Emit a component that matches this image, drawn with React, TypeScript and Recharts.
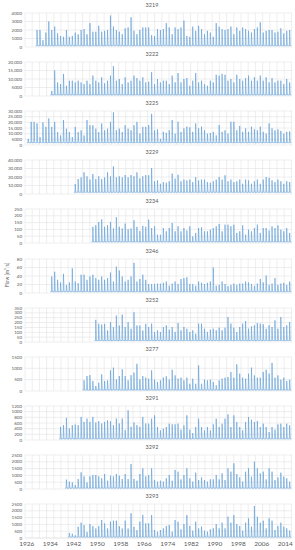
import { LineChart, Line, XAxis, YAxis, CartesianGrid } from "recharts";

// annual peak flows (one value per year, starting at `start`)
const peaks3219 = [2000, 2000, 800, 1700, 3000, 2000, 2400, 1600, 1300, 1200, 2000, 1200, 1300, 1700, 1500, 2000, 2100, 1500, 2800, 1800, 1800, 2500, 1800, 1900, 2000, 3700, 2400, 2000, 1800, 1500, 2200, 2300, 3500, 1900, 1500, 2000, 2300, 2300, 2300, 1400, 1300, 2100, 2000, 2100, 2800, 2300, 1500, 2300, 2100, 2300, 3100, 1300, 1200, 2400, 1900, 2500, 2100, 1500, 1900, 1700, 1200, 2800, 2400, 2100, 2000, 2100, 2400, 1500, 2300, 1900, 2300, 2100, 1900, 1700, 2100, 2300, 2900, 1700, 1900, 2000, 2000, 1700, 1800, 2200, 1600, 1900, 2000];
const peaks3222 = [3000, 15000, 8000, 7000, 13000, 6000, 9000, 9000, 8000, 9000, 8000, 7000, 9000, 7000, 12000, 9000, 8000, 11000, 7500, 9000, 12000, 17500, 9000, 10000, 7000, 11000, 8000, 9000, 12000, 10500, 9000, 11000, 8000, 8500, 14000, 7000, 10000, 8000, 9000, 9000, 7000, 12000, 8000, 13500, 8000, 10000, 10500, 6000, 9000, 13500, 8000, 9000, 7000, 6000, 9000, 8000, 12500, 12000, 13000, 12500, 9000, 10000, 8000, 12500, 10000, 9000, 10500, 12000, 9000, 11000, 9000, 12000, 9000, 11000, 8000, 10500, 8000, 9000, 9000, 7000, 10000, 8000];
const peaks3225 = [5400, 20400, 20400, 19000, 7000, 20000, 16000, 23400, 16000, 20400, 11400, 8400, 22000, 14400, 11400, 7000, 16000, 11400, 13000, 8400, 22000, 17400, 17400, 14400, 11400, 19000, 13000, 14400, 20400, 28800, 13000, 14400, 11400, 17400, 14400, 13000, 17400, 20400, 10000, 16000, 16000, 17700, 27500, 13000, 13800, 5500, 11600, 10700, 13000, 22000, 10000, 20500, 11600, 14700, 16200, 15600, 11600, 19000, 14700, 16200, 13000, 10000, 10700, 11600, 8500, 17700, 11600, 13000, 10000, 20500, 20500, 13000, 16800, 11600, 14700, 11600, 16200, 13800, 13000, 16200, 11600, 10000, 19000, 14700, 13000, 13800, 12500, 10000, 11600, 12000];
const peaks3229 = [11800, 17600, 19600, 25500, 20800, 17000, 23500, 17600, 20800, 17600, 19600, 25500, 20800, 32500, 19600, 20800, 19600, 22300, 19600, 22300, 20800, 25500, 18400, 20800, 22300, 22000, 30500, 15000, 16000, 12000, 14000, 13300, 15000, 24000, 18000, 22700, 15000, 17000, 16000, 17000, 14000, 20000, 16000, 17000, 17000, 14000, 13300, 15000, 17000, 20000, 17000, 22000, 15000, 17000, 14000, 15000, 17000, 12000, 17000, 16000, 12000, 15000, 17000, 12000, 17000, 20000, 19000, 16000, 14000, 17000, 15000, 12000, 15000, 14000];
const peaks3234 = [119, 131, 155, 174, 119, 131, 155, 107, 190, 119, 107, 143, 102, 107, 167, 119, 88, 126, 119, 172, 110, 123, 61, 61, 110, 86, 110, 147, 86, 123, 86, 110, 91, 123, 49, 74, 110, 115, 86, 86, 98, 110, 123, 140, 86, 135, 135, 123, 135, 74, 86, 130, 61, 98, 86, 110, 135, 74, 110, 110, 91, 123, 110, 130, 98, 86, 110, 74];
const peaks3246 = [39, 50, 31, 25, 45, 19, 25, 58, 27, 23, 43, 43, 31, 39, 43, 35, 31, 39, 31, 35, 48, 27, 62, 53, 39, 27, 31, 39, 71, 27, 33, 43, 31, 21, 21, 21, 22, 22, 24, 27, 17, 22, 27, 21, 33, 35, 37, 21, 21, 17, 27, 24, 21, 24, 27, 60, 17, 19, 27, 21, 16, 19, 22, 19, 22, 22, 27, 25, 21, 17, 22, 33, 25, 41, 19, 22, 35, 19, 22, 24, 19, 27];
const peaks3252 = [228, 187, 180, 187, 119, 204, 153, 272, 170, 282, 153, 204, 136, 306, 170, 170, 119, 187, 154, 189, 103, 120, 103, 154, 172, 127, 154, 103, 196, 120, 154, 137, 103, 120, 86, 189, 189, 137, 103, 127, 137, 120, 147, 120, 147, 257, 189, 147, 103, 154, 189, 216, 137, 161, 172, 196, 189, 182, 137, 172, 154, 223, 137, 257, 154, 172, 206];
const peaks3277 = [470, 660, 700, 440, 220, 370, 735, 440, 470, 910, 1030, 515, 660, 955, 660, 470, 700, 810, 1200, 515, 660, 590, 545, 910, 500, 400, 470, 590, 650, 500, 940, 690, 545, 590, 470, 590, 320, 545, 320, 1130, 320, 500, 470, 500, 400, 250, 470, 545, 590, 620, 840, 590, 1180, 765, 590, 545, 765, 1030, 690, 590, 590, 840, 940, 765, 1240, 590, 690, 500, 590, 440, 500];
const peaks3291 = [466, 524, 780, 408, 524, 548, 524, 815, 640, 757, 640, 815, 617, 664, 583, 640, 699, 664, 524, 757, 583, 757, 350, 1048, 466, 617, 524, 466, 815, 583, 576, 752, 870, 459, 341, 400, 459, 576, 553, 553, 576, 364, 517, 870, 364, 247, 459, 752, 459, 341, 459, 341, 553, 752, 459, 576, 752, 905, 459, 870, 635, 459, 341, 635, 811, 717, 635, 670, 459, 576, 459, 282, 459, 364, 553, 576, 459, 576, 517];
const peaks3292 = [686, 539, 490, 294, 735, 1225, 931, 490, 931, 1029, 1029, 931, 784, 1100, 612, 980, 931, 1100, 980, 735, 1100, 735, 1838, 735, 612, 1100, 1519, 931, 1029, 1520, 661, 539, 613, 539, 784, 1029, 613, 1397, 1275, 710, 1029, 1520, 784, 539, 1200, 661, 857, 661, 539, 710, 710, 1029, 710, 1152, 661, 1520, 1275, 1887, 1102, 857, 539, 1275, 1520, 906, 2010, 1520, 1152, 1275, 710, 1520, 1275, 661, 857, 1200, 906, 784, 539];
const peaks3293 = [375, 325, 200, 825, 1125, 950, 450, 1025, 875, 700, 875, 1325, 1075, 700, 1200, 1275, 1275, 875, 700, 1275, 700, 1825, 825, 575, 1200, 1700, 1075, 1078, 1690, 588, 465, 588, 710, 882, 955, 465, 1323, 1200, 637, 1029, 1690, 882, 539, 1200, 710, 833, 539, 465, 637, 710, 1029, 710, 1127, 710, 1568, 1127, 1690, 1029, 882, 539, 1127, 1445, 833, 2352, 1568, 1127, 1274, 710, 1445, 1274, 588, 882, 1127, 833, 710, 539];

const stationIds = ["3219", "3222", "3225", "3229", "3234", "3246", "3252", "3277", "3291", "3292", "3293"];
const startYears = [1929, 1934, 1926, 1942, 1948, 1934, 1949, 1945, 1937, 1939, 1940];
const lowFlows = [150, 600, 2000, 2000, 8, 3, 15, 40, 40, 60, 60];
const allPeaks = [peaks3219, peaks3222, peaks3225, peaks3229, peaks3234, peaks3246, peaks3252, peaks3277, peaks3291, peaks3292, peaks3293];
const yTicks = [
  [0, 1000, 2000, 3000, 4000],
  [0, 5000, 10000, 15000, 20000],
  [0, 5000, 10000, 15000, 20000, 25000, 30000],
  [0, 10000, 20000, 30000, 40000],
  [0, 50, 100, 150, 200, 250],
  [0, 20, 40, 60, 80],
  [0, 50, 100, 150, 200, 250, 300, 350],
  [0, 500, 1000, 1500],
  [0, 200, 400, 600, 800, 1000, 1200],
  [0, 500, 1000, 1500, 2000, 2500],
  [0, 500, 1000, 1500, 2000, 2500],
];
const yearTicks = [1926, 1934, 1942, 1950, 1958, 1966, 1974, 1982, 1990, 1998, 2006, 2014];

const W = 295;
const STEP = 49.1;
const BLUE = "#5b9bd5";
const GRID = "#dcdcdc";

// each year: low flow, a sharp rise to the annual peak, quick recession back to low
function buildSeries(start: number, peaks: number[], low: number) {
  const pts: { x: number; v: number }[] = [];
  peaks.forEach((p, i) => {
    const y = start + i;
    pts.push({ x: y, v: low });
    pts.push({ x: y + 0.4, v: low });
    pts.push({ x: y + 0.5, v: p });
    pts.push({ x: y + 0.7, v: low });
  });
  pts.push({ x: start + peaks.length, v: low });
  return pts;
}

const fmt = (v: number) => (v >= 10000 ? v.toLocaleString("en-US") : String(v));

function Panel({ idx }: { idx: number }) {
  const last = idx === stationIds.length - 1;
  const ticks = yTicks[idx];
  const data = buildSeries(startYears[idx], allPeaks[idx], lowFlows[idx]);
  const top = Math.round(idx * STEP);
  const h = last ? 62 : 49;
  return (
    <div style={{ position: "absolute", left: 0, top, width: W, height: h }}>
      <div
        style={{
          position: "absolute",
          left: 132,
          top: 1,
          width: 40,
          textAlign: "center",
          fontSize: 5.5,
          lineHeight: "8px",
          color: "#595959",
        }}
      >
        {stationIds[idx]}
      </div>
      <LineChart
        width={W}
        height={h}
        data={data}
        margin={{ top: 13, right: 3, bottom: last ? 1 : 2, left: 0 }}
      >
        <CartesianGrid
          stroke={GRID}
          strokeWidth={0.5}
          verticalCoordinatesGenerator={({ offset }: any) => {
            const out: number[] = [];
            for (let x = offset.left; x <= offset.left + offset.width + 0.5; x += 7.2) out.push(x);
            return out;
          }}
        />
        <XAxis
          type="number"
          dataKey="x"
          domain={[1925.4, 2016.3]}
          ticks={yearTicks}
          allowDataOverflow
          hide={!last}
          height={14}
          axisLine={{ stroke: GRID, strokeWidth: 0.5 }}
          tickLine={false}
          tickSize={0}
          tickMargin={3.5}
          interval={0}
          tick={{ fontSize: 6.5, fill: "#595959" }}
        />
        <YAxis
          type="number"
          domain={[0, ticks[ticks.length - 1]]}
          ticks={ticks}
          width={25}
          axisLine={false}
          tickLine={false}
          tickSize={0}
          tickMargin={3}
          interval={0}
          tickFormatter={fmt}
          tick={{ fontSize: 4.5, fill: "#595959" }}
        />
        <Line
          type="linear"
          dataKey="v"
          stroke={BLUE}
          strokeWidth={0.6}
          dot={false}
          isAnimationActive={false}
        />
      </LineChart>
    </div>
  );
}

export default function App() {
  return (
    <div
      style={{
        position: "absolute",
        left: 0,
        top: 0,
        width: W,
        height: 550,
        background: "#fff",
        fontFamily: "Lato, 'Open Sans', sans-serif",
      }}
    >
      {stationIds.map((id, i) => (
        <Panel key={id} idx={i} />
      ))}
      <div
        style={{
          position: "absolute",
          left: -18,
          top: 272,
          width: 50,
          textAlign: "center",
          fontSize: 5,
          lineHeight: "6px",
          color: "#595959",
          transform: "rotate(-90deg)",
        }}
      >
        Flow [m³/s]
      </div>
    </div>
  );
}
